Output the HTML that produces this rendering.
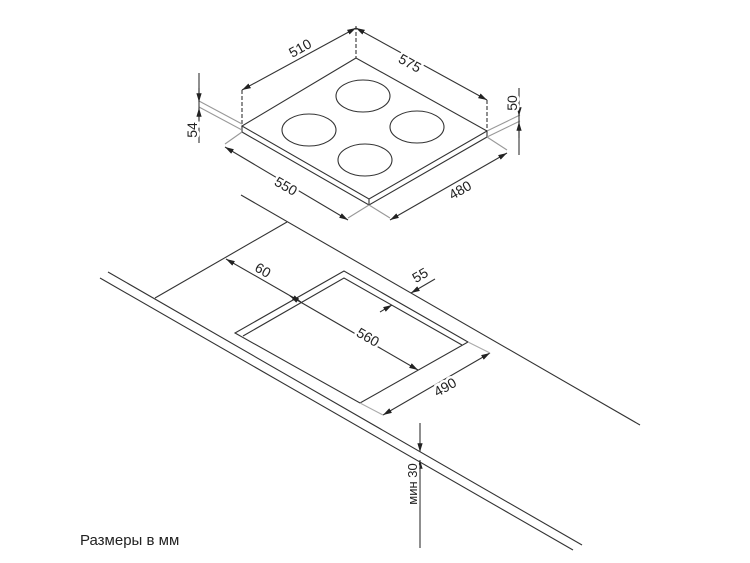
<!DOCTYPE html>
<html><head><meta charset="utf-8"><style>
html,body{margin:0;padding:0;background:#fff;}
svg{display:block;}
text{font-family:"Liberation Sans","DejaVu Sans",sans-serif;fill:#222;}
.l text{stroke:#fff;stroke-width:5px;paint-order:stroke;}
</style></head><body>
<svg width="750" height="563" viewBox="0 0 750 563" xmlns="http://www.w3.org/2000/svg">
<defs>
<marker id="a" viewBox="0 0 10 6" refX="10" refY="3" markerWidth="8" markerHeight="5" orient="auto-start-reverse"><path d="M0,0 L10,3 L0,6z" fill="#222"/></marker>
</defs>
<g stroke="#333" stroke-width="1.1" fill="none">
<path d="M356,58 L242,126 L369,199 L487,131 Z"/>
<path d="M242,126 L242,132 L369,205 L487,137 L487,131"/>
<path d="M369,199 L369,205"/>
<ellipse cx="363" cy="96" rx="27" ry="16"/>
<ellipse cx="309" cy="130" rx="27" ry="16"/>
<ellipse cx="417" cy="127" rx="27" ry="16"/>
<ellipse cx="365" cy="160" rx="27" ry="16"/>
<path d="M242,90 L242,126 M356,26 L356,58 M487,100 L487,131" stroke-dasharray="4,2"/>
<path d="M199,101 L242,124 M199,107 L242,130 M487,131 L520,115 M487,137 L520,121" stroke="#999"/>
<path d="M242,132 L225,144 M369,205 L348,218 M369,205 L390,218 M487,137 L507,150" stroke="#999"/>
<path d="M242,90 L356,28" marker-start="url(#a)" marker-end="url(#a)"/>
<path d="M356,28 L487,100" marker-start="url(#a)" marker-end="url(#a)"/>
<path d="M519,88 L519,155"/>
<path d="M519,100 L519,116" marker-end="url(#a)"/>
<path d="M519,138 L519,122" marker-end="url(#a)"/>
<path d="M199,73 L199,143"/>
<path d="M199,88 L199,102" marker-end="url(#a)"/>
<path d="M199,120 L199,108" marker-end="url(#a)"/>
<path d="M225,147 L348,220" marker-start="url(#a)" marker-end="url(#a)"/>
<path d="M390,220 L507,153" marker-start="url(#a)" marker-end="url(#a)"/>
<path d="M241,195 L640,425"/>
<path d="M108,272 L582,545"/>
<path d="M100,278 L573,550"/>
<path d="M155,298 L287,222"/>
<path d="M344,271 L235,333 L360,403 L468,342 Z"/>
<path d="M243,336 L344,278 L462,345"/>
<path d="M226,259 L301,302" marker-start="url(#a)" marker-end="url(#a)"/>
<path d="M290,296 L418,370" marker-start="url(#a)" marker-end="url(#a)"/>
<path d="M380,312 L392,305" marker-end="url(#a)"/>
<path d="M435,279 L411,293" marker-end="url(#a)"/>
<path d="M383,415 L490,353" marker-start="url(#a)" marker-end="url(#a)"/>
<path d="M360,403 L383,415 M468,342 L490,353" stroke="#aaa"/>
<path d="M420,423 L420,452" marker-end="url(#a)"/>
<path d="M420,475 L420,460" marker-end="url(#a)"/>
<path d="M420,475 L420,548"/>
</g>
<g font-size="14" class="l">
<text x="300" y="53" transform="rotate(-29 300 48)" text-anchor="middle">510</text>
<text x="410" y="68" transform="rotate(29 410 63)" text-anchor="middle">575</text>
<text x="512" y="108" transform="rotate(-90 512 103)" text-anchor="middle">50</text>
<text x="192" y="135" transform="rotate(-90 192 130)" text-anchor="middle">54</text>
<text x="286" y="191" transform="rotate(30 286 186)" text-anchor="middle">550</text>
<text x="460" y="195" transform="rotate(-30 460 190)" text-anchor="middle">480</text>
<text x="263" y="275" transform="rotate(30 263 270)" text-anchor="middle">60</text>
<text x="368" y="342" transform="rotate(30 368 337)" text-anchor="middle">560</text>
<text x="420" y="280" transform="rotate(-30 420 275)" text-anchor="middle">55</text>
<text x="445" y="392" transform="rotate(-30 445 387)" text-anchor="middle">490</text>
<text x="413" y="488" font-size="13" transform="rotate(-90 413 484)" text-anchor="middle">мин 30</text>
</g>
<text x="80" y="545" font-size="15">Размеры в мм</text>
</svg>
</body></html>
